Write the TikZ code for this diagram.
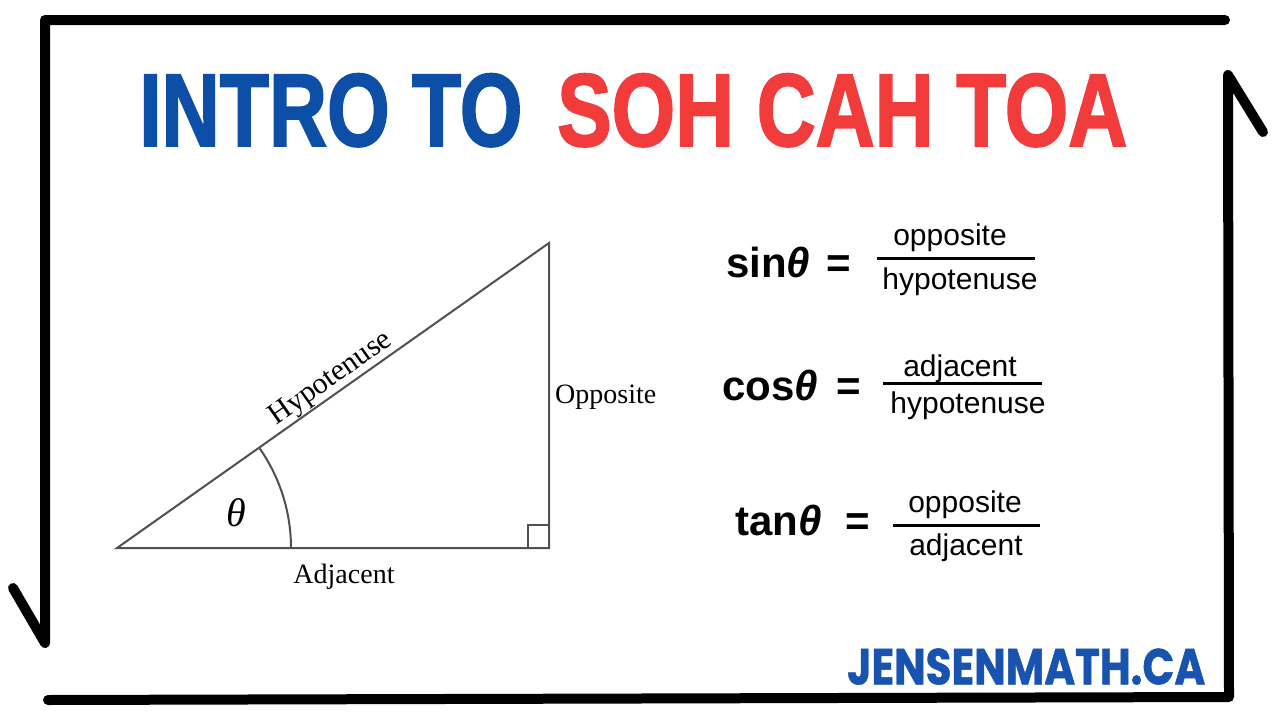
\documentclass[tikz,border=0pt]{standalone}
\usepackage{fontspec}
\usepackage{graphicx}
\setmainfont{Liberation Sans}
\newfontfamily\seriffont{Liberation Serif}
\newfontfamily\titlefont[FakeBold=2]{Liberation Sans}
\newfontfamily\sitefont[FakeBold=1]{Poppins}
\newcommand\fsz[1]{\fontsize{#1}{#1}\selectfont}
\definecolor{titleblue}{HTML}{0D4FA6}
\definecolor{titlered}{HTML}{F23B3B}
\definecolor{siteblue}{HTML}{1853B0}
\definecolor{trigray}{HTML}{505050}
\begin{document}
\begin{tikzpicture}[x=1pt,y=-1pt,
  frame/.style={line width=10pt, line cap=round, line join=round},
  tri/.style={draw=trigray, line width=2pt},
  lbl/.style={font=\seriffont\fsz{28}, text=black, inner sep=0pt},
  lhs/.style={font=\bfseries\fsz{42}, inner sep=0pt, anchor=base west},
  fracpart/.style={font=\fsz{30}, inner sep=0pt, anchor=base},
  fracbar/.style={line width=3pt}]
\fill[white] (0,0) rectangle (1280,720);
\useasboundingbox (0,0) rectangle (1280,720);

% hand-drawn frame
\draw[frame] (13,588) -- (45,643) -- (45,20) -- (1225,20);
\draw[frame] (1263,132) -- (1228,75) -- (1229,697) -- (48,700);

% title
\node[anchor=south west, inner sep=0pt, text=titleblue] (t1) at (139,147)
  {\resizebox{383pt}{72pt}{\titlefont\bfseries INTRO TO}};
\node[anchor=south west, inner sep=0pt, text=titlered] (t2) at (557,147)
  {\resizebox{570pt}{72pt}{\titlefont\bfseries SOH CAH TOA}};

% site
\node[anchor=south west, inner sep=0pt, text=siteblue] (site) at (847,685)
  {\resizebox{358pt}{36pt}{\sitefont\bfseries JENSENMATH.CA}};

% triangle
\coordinate (A) at (117,548);
\coordinate (B) at (549,548);
\coordinate (C) at (549,243);
\draw[tri, line join=miter] (A) -- (B) -- (C) -- cycle;
\draw[tri] (528,548) -- (528,525) -- (549,525);
\draw[tri] (291,548) arc[start angle=0, end angle=-35.2, radius=174];

\node[lbl, anchor=base west] (opp) at (555,403) {Opposite};
\node[lbl, anchor=base] (adj) at (344,583) {Adjacent};
\path (A) -- (C) node[lbl, font=\seriffont\fsz{30}, pos=0.515, sloped, above, inner sep=1pt] (hyp) {Hypotenuse};
\node[font=\seriffont\itshape\fsz{40}, inner sep=0pt] (th) at (236,513) {θ};

% formulas
\node[lhs] (sinl) at (726,277) {sin\textit{θ}};
\node[lhs] (sineq) at (826,277) {=};
\node[fracpart] (sinn) at (950,245) {opposite};
\node[fracpart] (sind) at (960,289) {hypotenuse};
\draw[fracbar] (877,258) -- (1035,258);

\node[lhs] (cosl) at (722,400) {cos\textit{θ}};
\node[lhs] (coseq) at (836,400) {=};
\node[fracpart] (cosn) at (960,376) {adjacent};
\node[fracpart] (cosd) at (968,413) {hypotenuse};
\draw[fracbar] (883,383) -- (1042,383);

\node[lhs] (tanl) at (735,535) {tan\textit{θ}};
\node[lhs] (taneq) at (845,535) {=};
\node[fracpart] (tann) at (965,512) {opposite};
\node[fracpart] (tand) at (966,555) {adjacent};
\draw[fracbar] (893,525) -- (1040,525);
\end{tikzpicture}
\end{document}
